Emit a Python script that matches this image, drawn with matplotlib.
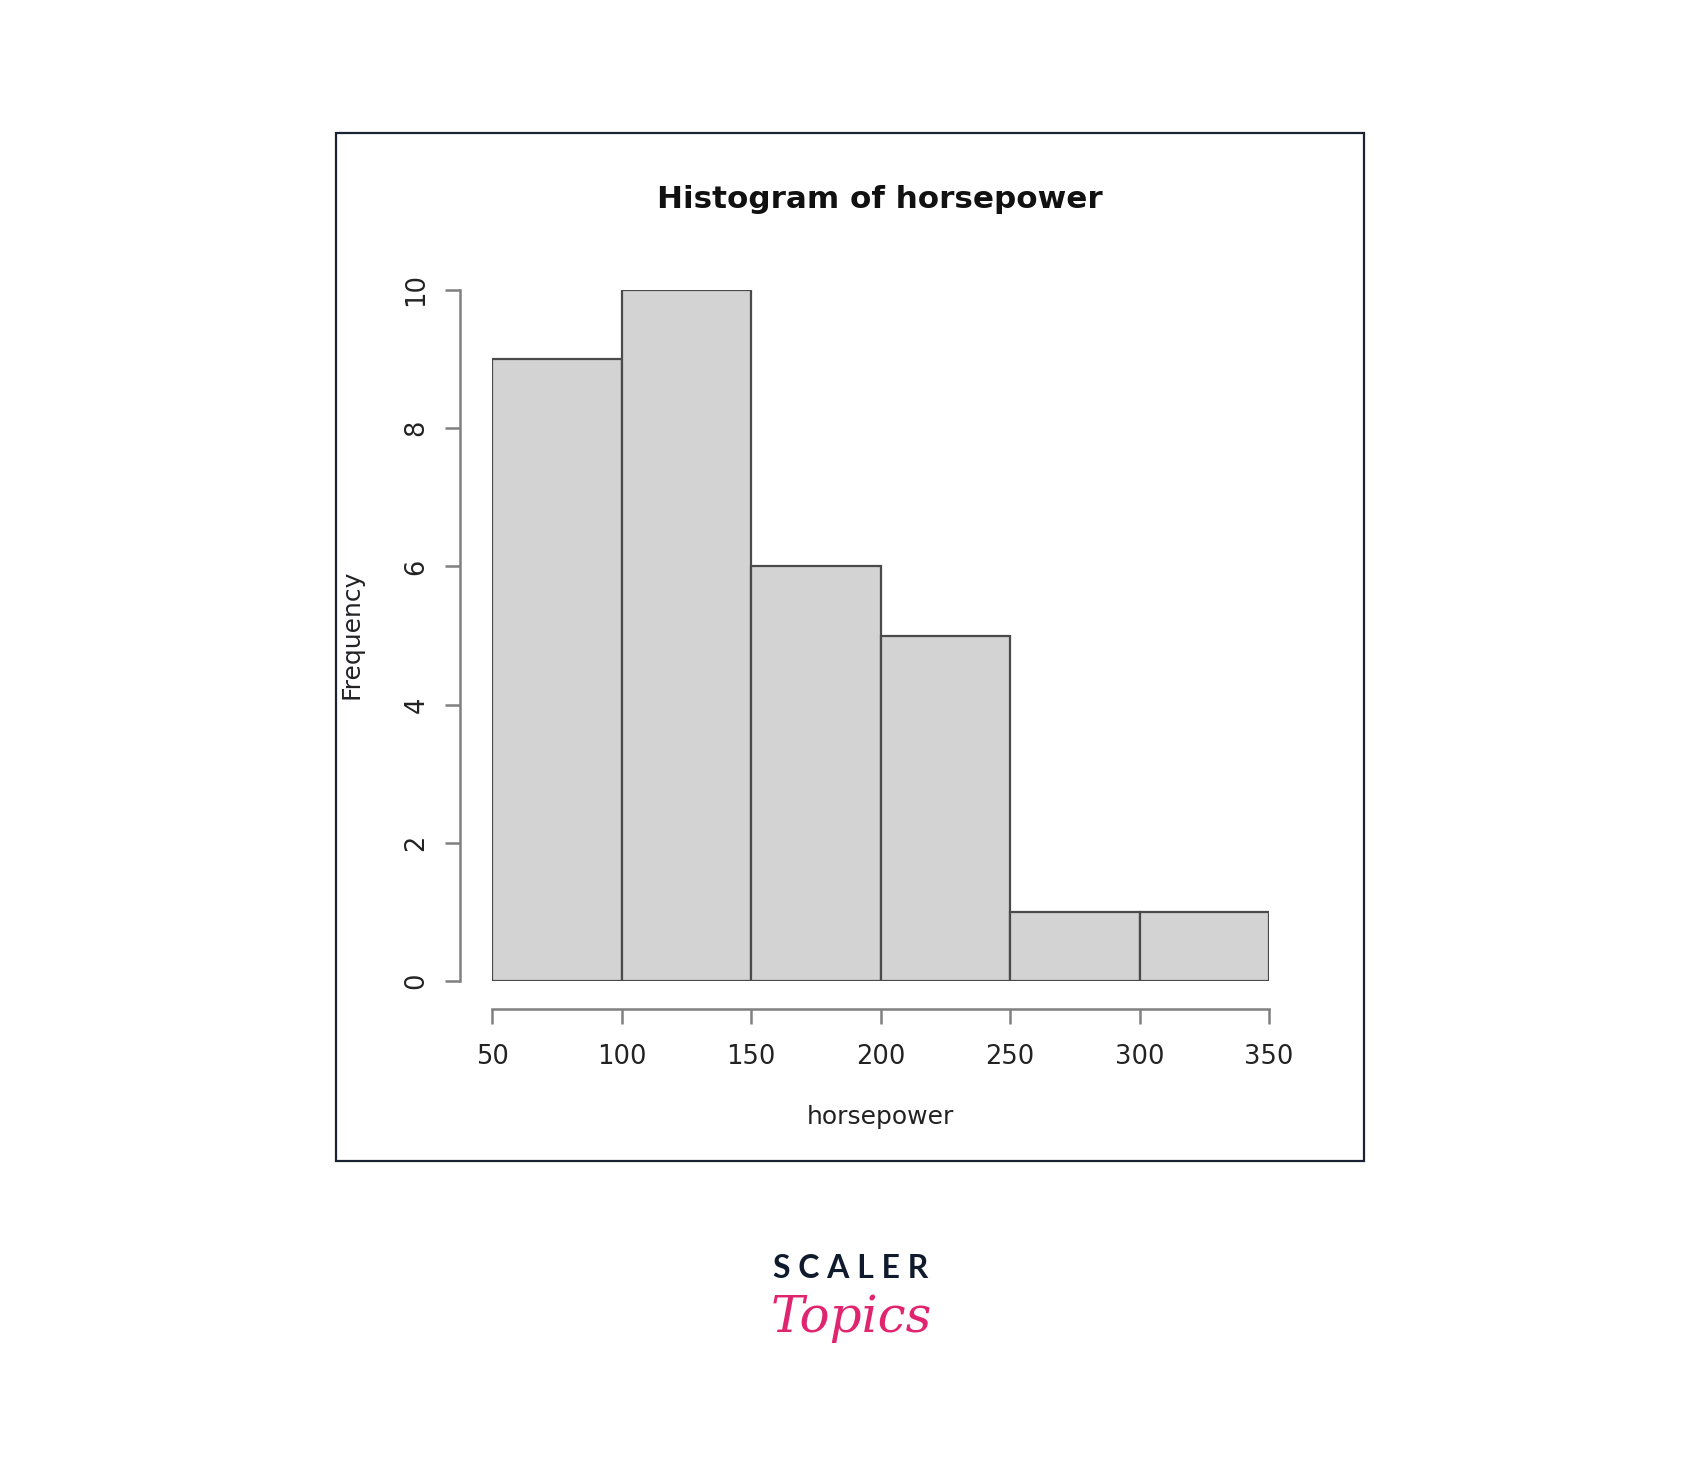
import matplotlib.pyplot as plt
from matplotlib.patches import Rectangle

# histogram data
bin_edges = [50, 100, 150, 200, 250, 300, 350]
counts = [9, 10, 6, 5, 1, 1]
x_ticks = [50, 100, 150, 200, 250, 300, 350]
y_ticks = [0, 2, 4, 6, 8, 10]

W, H = 1700, 1467
fig = plt.figure(figsize=(W / 100, H / 100), dpi=100)
fig.patch.set_facecolor('white')

# outer frame around the R plot
fig.patches.append(Rectangle((336 / W, 1 - 1161 / H), (1364 - 336) / W, (1161 - 133) / H,
                             transform=fig.transFigure, fill=False,
                             edgecolor='#1a2233', linewidth=1.6))

ax = fig.add_axes([492 / W, 1 - 981 / H, (1269 - 492) / W, (981 - 290) / H])
ax.bar(bin_edges[:-1], counts, width=50, align='edge',
       color='#d3d3d3', edgecolor='#4a4a4a', linewidth=1.6)
ax.set_xlim(50, 350)
ax.set_ylim(0, 10)

for s in ['top', 'right']:
    ax.spines[s].set_visible(False)
ax.spines['left'].set_position(('outward', 23))
ax.spines['bottom'].set_position(('outward', 20))
for s in ['left', 'bottom']:
    ax.spines[s].set_color('#808080')
    ax.spines[s].set_linewidth(1.8)

ax.set_xticks(x_ticks)
ax.set_yticks(y_ticks)
ax.set_yticklabels([str(v) for v in y_ticks], rotation=90, va='center')
ax.tick_params(axis='both', length=11, width=1.8, color='#808080',
               labelsize=18.5, labelcolor='#222222')
ax.tick_params(axis='x', pad=14)
ax.tick_params(axis='y', pad=11)

fig.text(880 / W, 1 - 200 / H, 'Histogram of horsepower', ha='center', va='center',
         fontsize=22.3, fontweight='bold', color='#111111')
fig.text(880 / W, 1 - 1117 / H, 'horsepower', ha='center', va='center',
         fontsize=18, color='#222222')
fig.text(352 / W, 1 - 634 / H, 'Frequency', ha='center', va='center', rotation=90,
         fontsize=18, color='#222222')

# logo
fig.text(851 / W, 1 - 1268 / H, 'S C A L E R', ha='center', va='center',
         fontsize=23, fontweight='bold', color='#0f1b2d', family='Lato')
fig.text(851 / W, 1 - 1318 / H, 'Topics', ha='center', va='center',
         fontsize=36, style='italic', color='#e0246f', family='DejaVu Serif')

fig.savefig('out.png', dpi=100)
